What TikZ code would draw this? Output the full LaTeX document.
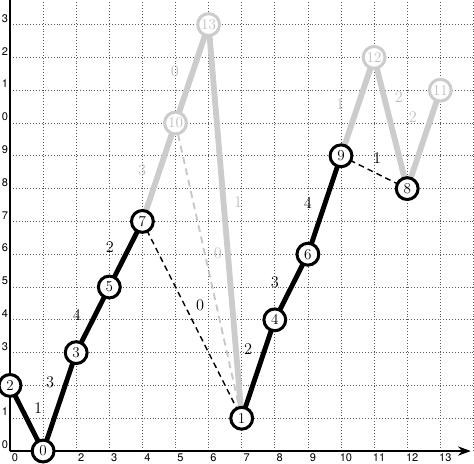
\documentclass[tikz,border=0pt]{standalone}
\usepackage{fontspec}
\newfontfamily\tickfont{TeX Gyre Heros}
\usetikzlibrary{arrows.meta}
\begin{document}
\begin{tikzpicture}[x=1cm,y=0.991cm,
  vtx/.style={circle,draw=black,line width=2.6pt,fill=white,inner sep=0pt,minimum size=0.66cm,font=\fontsize{13}{15}\selectfont},
  gvtx/.style={vtx,draw=black!20,text=black!25},
  bedge/.style={line width=4.2pt},
  gedge/.style={line width=5pt,draw=black!20},
  bdash/.style={line width=1.2pt,dash pattern=on 5pt off 3.5pt},
  gdash/.style={line width=1.6pt,draw=black!22,dash pattern=on 6pt off 4pt},
  elab/.style={font=\fontsize{14}{16}\selectfont,inner sep=0pt},
  glab/.style={elab,text=black!25},
  tick/.style={font=\tickfont\fontsize{9.5}{11}\selectfont,inner sep=0pt},
  gridline/.style={line width=0.6pt,black!65,dash pattern=on 0.7pt off 1.8pt},
  axisline/.style={line width=1.2pt}]

\useasboundingbox (-0.302,-0.366) rectangle (14.018,13.75);
\clip (-0.302,-0.366) rectangle (14.018,13.75);

% grid
\foreach \i in {1,...,14} \draw[gridline] (\i,0) -- (\i,14);
\foreach \j in {1,...,14} \draw[gridline] (0,\j) -- (14.1,\j);

% axes
\coordinate (O) at (0,0);
\coordinate (xe) at (13.92,0);
\coordinate (ye) at (0,14.2);
\draw[axisline,-{Stealth[length=11pt,width=8pt]}] (O) -- (xe);
\draw[axisline] (O) -- (ye);

% tick labels
\foreach \i in {0,...,13} \node[tick] at (\i+0.15,-0.19) {\i};
\foreach \j in {0,...,13} \node[tick,anchor=east] at (-0.05,\j+0.19) {\j};

% node positions
\coordinate (p2) at (0,2);
\coordinate (p0) at (1,0);
\coordinate (p3) at (2,3);
\coordinate (p5) at (3,5);
\coordinate (p7) at (4,7);
\coordinate (p10) at (5,10);
\coordinate (p13) at (6,13);
\coordinate (p1) at (7,1);
\coordinate (p4) at (8,4);
\coordinate (p6) at (9,6);
\coordinate (p9) at (10,9);
\coordinate (p12) at (11,12);
\coordinate (p8) at (12,8);
\coordinate (p11) at (13,11);

% gray edges
\draw[gedge] (p7) -- (p10);
\draw[gedge] (p10) -- (p13);
\draw[gedge] (p13) -- (p1);
\draw[gedge] (p9) -- (p12);
\draw[gedge] (p12) -- (p8);
\draw[gedge] (p8) -- (p11);
\draw[gdash] (p10) -- (p1);

% black edges
\draw[bedge] (p2) -- (p0);
\draw[bedge] (p0) -- (p3);
\draw[bedge] (p3) -- (p5);
\draw[bedge] (p5) -- (p7);
\draw[bedge] (p1) -- (p4);
\draw[bedge] (p4) -- (p6);
\draw[bedge] (p6) -- (p9);
\draw[bdash] (p7) -- (p1);
\draw[bdash] (p9) -- (p8);

% nodes
\node[vtx] (n2) at (p2) {2};
\node[vtx] (n0) at (p0) {0};
\node[vtx] (n3) at (p3) {3};
\node[vtx] (n5) at (p5) {5};
\node[vtx] (n7) at (p7) {7};
\node[gvtx] (n10) at (p10) {10};
\node[gvtx] (n13) at (p13) {13};
\node[vtx] (n1) at (p1) {1};
\node[vtx] (n4) at (p4) {4};
\node[vtx] (n6) at (p6) {6};
\node[vtx] (n9) at (p9) {9};
\node[gvtx] (n12) at (p12) {12};
\node[vtx] (n8) at (p8) {8};
\node[gvtx] (n11) at (p11) {11};

% black edge labels
\node[elab] (l20) at (0.85,1.31) {1};
\node[elab] (l03) at (1.21,2.10) {3};
\node[elab] (l35) at (2.02,4.15) {4};
\node[elab] (l57) at (3.02,6.22) {2};
\node[elab] (l71) at (5.74,4.45) {0};
\node[elab] (l14) at (7.19,3.11) {2};
\node[elab] (l46) at (8.0,5.15) {3};
\node[elab] (l69) at (9.0,7.56) {4};
\node[elab] (l98) at (11.09,8.93) {1};

% gray edge labels
\node[glab] (l710) at (3.99,8.57) {3};
\node[glab] (l1013) at (4.98,11.59) {0};
\node[glab] (l131) at (6.89,7.59) {1};
\node[glab] (l101) at (6.28,6.04) {0};
\node[glab] (l912) at (9.97,10.58) {1};
\node[glab] (l128) at (11.75,10.79) {2};
\node[glab] (l811) at (12.17,10.18) {2};
\end{tikzpicture}
\end{document}
